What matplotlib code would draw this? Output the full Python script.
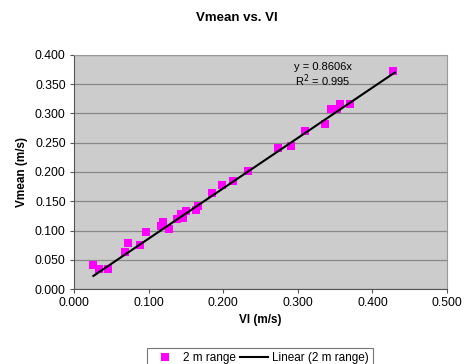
import numpy as np
import matplotlib
matplotlib.use('Agg')
import matplotlib.pyplot as plt

plt.rcParams['font.family'] = ['Liberation Sans', 'DejaVu Sans']

vi = [0.026, 0.034, 0.045, 0.068, 0.072, 0.089, 0.097, 0.117, 0.119, 0.127,
      0.138, 0.143, 0.146, 0.150, 0.164, 0.166, 0.185, 0.198, 0.213, 0.233,
      0.273, 0.291, 0.310, 0.336, 0.345, 0.352, 0.356, 0.370, 0.428]
vmean = [0.041, 0.034, 0.034, 0.063, 0.078, 0.075, 0.097, 0.107, 0.115, 0.102,
         0.119, 0.128, 0.122, 0.134, 0.135, 0.142, 0.164, 0.177, 0.185, 0.201,
         0.241, 0.244, 0.270, 0.282, 0.308, 0.308, 0.317, 0.316, 0.372]

slope = 0.8606
r2 = 0.995
x_ticks = [0.0, 0.1, 0.2, 0.3, 0.4, 0.5]
y_ticks = [0.0, 0.05, 0.1, 0.15, 0.2, 0.25, 0.3, 0.35, 0.4]

fig = plt.figure(figsize=(4.74, 3.64), dpi=100)
ax = fig.add_axes([74/474, 1 - 289/364, (447 - 74)/474, (289 - 55)/364])
ax.set_facecolor('#cccccc')

ax.plot(vi, vmean, 's', color='#ff00ff', ms=5.5, mew=0, label='2 m range', zorder=3)
fit_x = np.array([min(vi), 0.430])
ax.plot(fit_x, slope * fit_x, color='black', lw=1.5, label='Linear (2 m range)', zorder=4)

ax.set_xlim(0, 0.5)
ax.set_ylim(0, 0.4)
ax.set_xticks(x_ticks)
ax.set_yticks(y_ticks)
ax.set_xticklabels(['{:.3f}'.format(v) for v in x_ticks])
ax.set_yticklabels(['{:.3f}'.format(v) for v in y_ticks])
ax.tick_params(labelsize=8.8, length=3, color='#555555', direction='out', pad=3)
ax.grid(axis='y', color='#888888', lw=0.9)
ax.set_axisbelow(True)
for s in ['top', 'right']:
    ax.spines[s].set_color('#999999')
for s in ['left', 'bottom']:
    ax.spines[s].set_color('#555555')

ax.set_xlabel('VI (m/s)', fontsize=8.5, fontweight='bold', labelpad=3)
ax.set_ylabel('Vmean (m/s)', fontsize=8.5, fontweight='bold', labelpad=5)
fig.text(0.5, 1 - 18/364, 'Vmean vs. VI', ha='center', va='center',
         fontsize=9.5, fontweight='bold')

ax.text(323/474, 1 - 67/364, 'y = {}x'.format(slope), transform=fig.transFigure,
        ha='center', va='center', fontsize=8)
ax.text(323/474, 1 - 81/364, 'R$^2$ = {}'.format(r2), transform=fig.transFigure,
        ha='center', va='center', fontsize=8)

leg = fig.legend(loc='center', bbox_to_anchor=(260/474, 1 - 358/364), ncol=2,
                 fontsize=8.5, frameon=True, fancybox=False, handlelength=2.3,
                 columnspacing=0.4, handletextpad=0.4, borderpad=0.35,
                 borderaxespad=0)
leg.get_frame().set_edgecolor('#555555')
leg.get_frame().set_linewidth(0.8)

plt.savefig('out.png', dpi=100)
